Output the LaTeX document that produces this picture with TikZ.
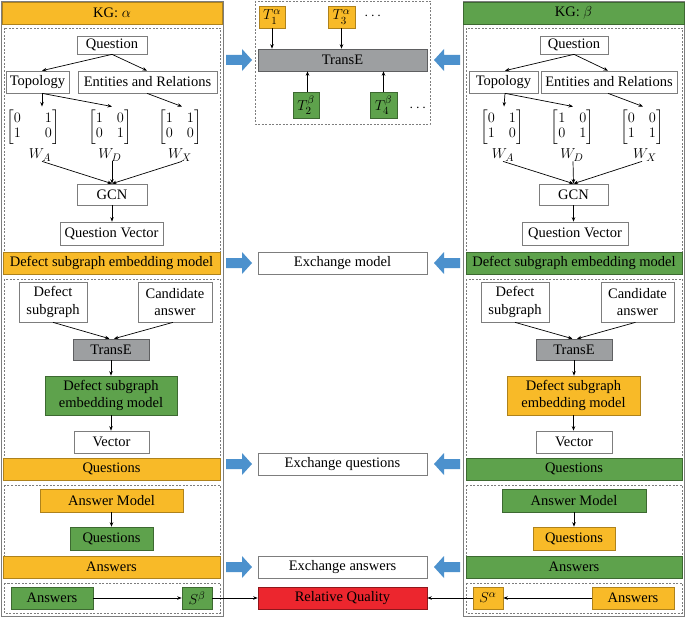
\documentclass[tikz,border=0pt]{standalone}
\usepackage{amsmath}
\usepackage{fontspec}
\setmainfont{Liberation Serif}
\usetikzlibrary{arrows.meta}
\DeclareMathSizes{14.5}{14.5}{11}{9}
\definecolor{korange}{RGB}{248,186,40}
\definecolor{kgreen}{RGB}{94,162,76}
\definecolor{kgray}{RGB}{157,159,161}
\definecolor{kred}{RGB}{236,38,46}
\definecolor{kblue}{RGB}{76,145,205}
\definecolor{kline}{RGB}{125,125,125}
\newcommand\dfs{\fontsize{14.5}{17.5}\selectfont}
\newcommand\mfs{\fontsize{14.5}{15}\selectfont}
\begin{document}
\begin{tikzpicture}[x=1pt,y=-1pt,
  every node/.style={font=\dfs, inner sep=0pt, text=black},
  wbox/.style={draw=kline, fill=white, line width=0.7pt},
  obox/.style={draw=korange!70!black, fill=korange, line width=0.6pt},
  gbox/.style={draw=kgreen!65!black, fill=kgreen, line width=0.6pt},
  graybox/.style={draw=kgray!60!black, fill=kgray, line width=0.6pt},
  rbox/.style={draw=kred!60!black, fill=kred, line width=0.6pt},
  dbox/.style={draw=kline, dash pattern=on 2pt off 1.5pt, line width=0.6pt},
  sbox/.style={draw=kline, line width=0.8pt},
  mnode/.style={font=\mfs, inner ysep=3pt},
  conn/.style={-{Stealth[length=4.5pt,width=3.5pt]}, line width=0.7pt, black},
  barrow/.pic={\fill[kblue] (-13,-5) -- (3,-5) -- (3,-11) -- (13,0) -- (3,11) -- (3,5) -- (-13,5) -- cycle;}
]
\useasboundingbox (0,0) rectangle (685,618);
\fill[white] (0,0) rectangle (685,618);

% ---------- frames ----------
\draw[sbox] (1,1) rectangle (223,616);
\draw[sbox] (463,1) rectangle (684,616);
\draw[dbox] (4,28) rectangle (220,274);
\draw[dbox] (4,279) rectangle (220,480);
\draw[dbox] (4,485) rectangle (220,578);
\draw[dbox] (4,583) rectangle (220,613);
\draw[dbox] (466,28) rectangle (682,274);
\draw[dbox] (466,279) rectangle (682,480);
\draw[dbox] (466,485) rectangle (682,578);
\draw[dbox] (466,583) rectangle (682,613);
\draw[dbox] (255,1) rectangle (430,124);

% ---------- left column (KG alpha) ----------
\node[obox, minimum width=220, minimum height=22] (hA) at (112,13) {KG: $\alpha$};
\node[wbox, minimum width=70, minimum height=18] (qA) at (112,45) {Question};
\node[wbox, minimum width=63, minimum height=22] (tA) at (37.5,82) {Topology};
\node[wbox, minimum width=139, minimum height=22] (eA) at (147.5,82) {Entities and Relations};
\node[mnode] (mA1) at (33,127) {$\setlength\arraycolsep{12pt}\begin{bmatrix}0&1\\1&0\end{bmatrix}$};
\node[mnode] (mA2) at (110,127) {$\setlength\arraycolsep{7pt}\begin{bmatrix}1&0\\0&1\end{bmatrix}$};
\node[mnode] (mA3) at (180,127) {$\setlength\arraycolsep{7pt}\begin{bmatrix}1&1\\0&0\end{bmatrix}$};
\node (wAa) at (40,155) {$W_A$};
\node (wAd) at (110,155) {$W_D$};
\node (wAx) at (180,155) {$W_X$};
\node[wbox, minimum width=70, minimum height=21] (gA) at (112,194.5) {GCN};
\node[wbox, minimum width=103, minimum height=23] (vA) at (111.5,233.5) {Question Vector};
\node[obox, minimum width=217, minimum height=22] (bA1) at (111.5,263) {Defect subgraph embedding model};
\node[wbox, minimum width=68, minimum height=40, align=center] (dA) at (53,302) {Defect\\subgraph};
\node[wbox, minimum width=74, minimum height=40, align=center] (cA) at (175,302) {Candidate\\answer};
\node[graybox, minimum width=76, minimum height=21] (trA) at (111,349.5) {TransE};
\node[gbox, minimum width=132, minimum height=39, align=center] (emA) at (111,395.5) {Defect subgraph\\embedding model};
\node[wbox, minimum width=75, minimum height=22] (veA) at (111.5,442) {Vector};
\node[obox, minimum width=217, minimum height=22] (bA2) at (111.5,469) {Questions};
\node[obox, minimum width=143, minimum height=23] (amA) at (111.5,500.5) {Answer Model};
\node[gbox, minimum width=83, minimum height=23] (qsA) at (111.5,538.5) {Questions};
\node[obox, minimum width=217, minimum height=22] (bA3) at (111.5,567) {Answers};
\node[gbox, minimum width=82, minimum height=22] (anA) at (52,598) {Answers};
\node[gbox, minimum width=30, minimum height=22] (sA) at (197,598) {$S^{\beta}$};

% ---------- centre ----------
\node[obox, minimum width=26, minimum height=22] (t1) at (272,17) {$T_1^{\alpha}$};
\node[obox, minimum width=27, minimum height=22] (t3) at (341.5,17) {$T_3^{\alpha}$};
\node (d1) at (374,16) {$\cdots$};
\node[graybox, minimum width=169, minimum height=22] (trC) at (342.5,60) {TransE};
\node[gbox, minimum width=26, minimum height=26] (t2) at (306,105) {$T_2^{\beta}$};
\node[gbox, minimum width=27, minimum height=26] (t4) at (383.5,105) {$T_4^{\beta}$};
\node (d2) at (419,108) {$\cdots$};
\node[wbox, minimum width=169, minimum height=22] (exM) at (342.5,263) {Exchange model};
\node[wbox, minimum width=169, minimum height=22] (exQ) at (342.5,464) {Exchange questions};
\node[wbox, minimum width=169, minimum height=22] (exA) at (342.5,567) {Exchange answers};
\node[rbox, minimum width=169, minimum height=22] (rq) at (342.5,598) {Relative Quality};

\foreach \yy in {60,263,464,567}{
  \pic at (239,\yy) {barrow};
  \pic[rotate=180] at (447,\yy) {barrow};
}

% ---------- right column (KG beta) ----------
\node[gbox, minimum width=221, minimum height=22] (hB) at (573.5,13) {KG: $\beta$};
\node[wbox, minimum width=68, minimum height=18] (qB) at (574,45) {Question};
\node[wbox, minimum width=69, minimum height=22] (tB) at (503.5,82) {Topology};
\node[wbox, minimum width=136, minimum height=22] (eB) at (609,82) {Entities and Relations};
\node[mnode] (mB1) at (502,127) {$\setlength\arraycolsep{7pt}\begin{bmatrix}0&1\\1&0\end{bmatrix}$};
\node[mnode] (mB2) at (572.5,127) {$\setlength\arraycolsep{7pt}\begin{bmatrix}1&0\\0&1\end{bmatrix}$};
\node[mnode] (mB3) at (642,127) {$\setlength\arraycolsep{7pt}\begin{bmatrix}0&0\\1&1\end{bmatrix}$};
\node (wBa) at (503,155) {$W_A$};
\node (wBd) at (572,155) {$W_D$};
\node (wBx) at (645,155) {$W_X$};
\node[wbox, minimum width=69, minimum height=21] (gB) at (573.5,194.5) {GCN};
\node[wbox, minimum width=106, minimum height=23] (vB) at (575,233.5) {Question Vector};
\node[gbox, minimum width=216, minimum height=22] (bB1) at (574,263) {Defect subgraph embedding model};
\node[wbox, minimum width=68, minimum height=40, align=center] (dB) at (515,302) {Defect\\subgraph};
\node[wbox, minimum width=73, minimum height=40, align=center] (cB) at (637.5,302) {Candidate\\answer};
\node[graybox, minimum width=76, minimum height=21] (trB) at (574,349.5) {TransE};
\node[obox, minimum width=133, minimum height=39, align=center] (emB) at (573.5,395.5) {Defect subgraph\\embedding model};
\node[wbox, minimum width=76, minimum height=22] (veB) at (574,442) {Vector};
\node[gbox, minimum width=216, minimum height=22] (bB2) at (574,469) {Questions};
\node[gbox, minimum width=144, minimum height=23] (amB) at (574,500.5) {Answer Model};
\node[obox, minimum width=82, minimum height=23] (qsB) at (574,538.5) {Questions};
\node[gbox, minimum width=216, minimum height=22] (bB3) at (574,567) {Answers};
\node[obox, minimum width=30, minimum height=22] (sB) at (488,598) {$S^{\alpha}$};
\node[obox, minimum width=82, minimum height=22] (anB) at (633,598) {Answers};

% ---------- connectors ----------
% left
\draw[conn] (qA.south) -- ([xshift=4.5pt]tA.north);
\draw[conn] (qA.south) -- ([xshift=-0.5pt]eA.north);
\draw[conn] ([xshift=4.5pt]tA.south) -- ([xshift=9pt]mA1.north);
\draw[conn] ([xshift=4.5pt]tA.south) -- ([xshift=2pt]mA2.north);
\draw[conn] ([xshift=-0.5pt]eA.south) -- ([xshift=2pt]mA3.north);
\draw[conn] ([xshift=2pt]wAa.south) -- (gA.north);
\draw[conn] ([xshift=2pt]wAd.south) -- (gA.north);
\draw[conn] ([xshift=2pt]wAx.south) -- (gA.north);
\draw[conn] (gA.south) -- (gA.south |- vA.north);
\draw[conn] (dA.south) -- ([xshift=-1.5pt]trA.north);
\draw[conn] ([xshift=-2pt]cA.south) -- ([xshift=3pt]trA.north);
\draw[conn] (trA.south) -- (emA.north);
\draw[conn] (emA.south) -- (emA.south |- veA.north);
\draw[conn] (amA.south) -- (qsA.north);
\draw[conn] (anA.east) -- (sA.west);
\draw[conn] (sA.east) -- (rq.west);
% centre
\draw[conn] (t1.south) -- (t1.south |- trC.north);
\draw[conn] (t3.south) -- (t3.south |- trC.north);
\draw[conn] ([xshift=1.5pt]t2.north) -- ([xshift=1.5pt]t2.north |- trC.south);
\draw[conn] (t4.north) -- (t4.north |- trC.south);
% right
\draw[conn] (qB.south) -- ([xshift=1.5pt]tB.north);
\draw[conn] (qB.south) -- ([xshift=-1pt]eB.north);
\draw[conn] ([xshift=1.5pt]tB.south) -- ([xshift=2pt]mB1.north);
\draw[conn] ([xshift=1.5pt]tB.south) -- ([xshift=0.5pt]mB2.north);
\draw[conn] ([xshift=-1pt]eB.south) -- ([xshift=1pt]mB3.north);
\draw[conn] (wBa.south) -- (gB.north);
\draw[conn] ([xshift=1pt]wBd.south) -- (gB.north);
\draw[conn] ([xshift=-3pt]wBx.south) -- (gB.north);
\draw[conn] (gB.south) -- (gB.south |- vB.north);
\draw[conn] (dB.south) -- ([xshift=-1.5pt]trB.north);
\draw[conn] ([xshift=-2pt]cB.south) -- ([xshift=3pt]trB.north);
\draw[conn] (trB.south) -- (trB.south |- emB.north);
\draw[conn] (emB.south) -- (emB.south |- veB.north);
\draw[conn] (amB.south) -- (qsB.north);
\draw[conn] (anB.west) -- (sB.east);
\draw[conn] (sB.west) -- (rq.east);
\end{tikzpicture}
\end{document}
